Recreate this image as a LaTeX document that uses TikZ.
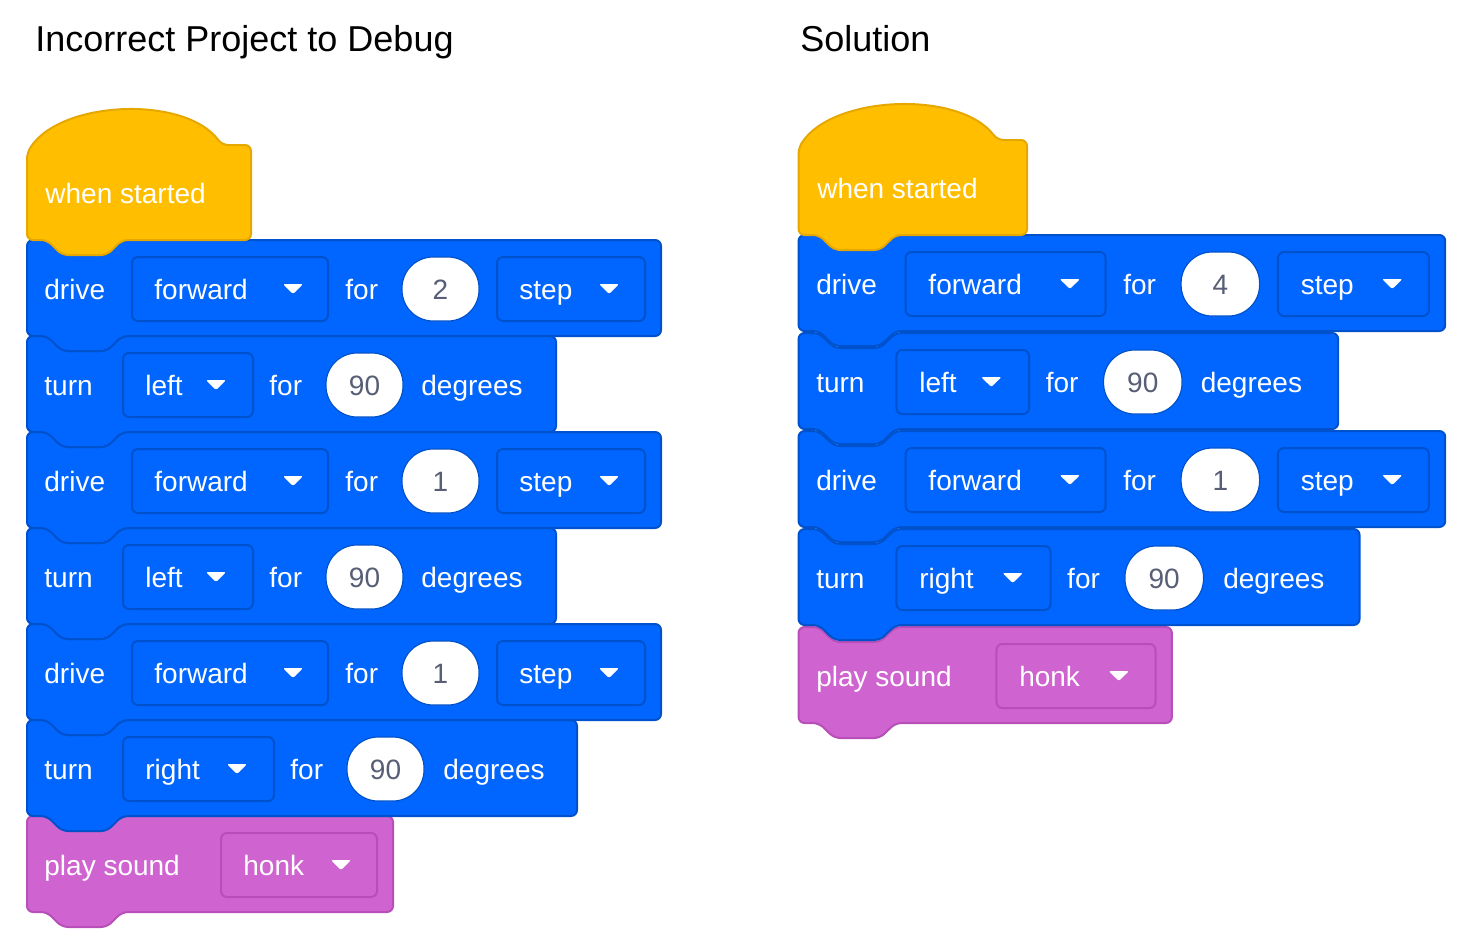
\documentclass[tikz,border=0pt]{standalone}
\usepackage{fontspec}
\setmainfont{Liberation Sans}
\usetikzlibrary{positioning}

\definecolor{motionblue}{RGB}{0,102,255}
\definecolor{motionedge}{RGB}{0,82,204}
\definecolor{eventyellow}{RGB}{255,191,0}
\definecolor{eventedge}{RGB}{230,168,0}
\definecolor{soundpurple}{RGB}{207,99,207}
\definecolor{soundedge}{RGB}{184,79,184}
\definecolor{numgrey}{RGB}{87,94,117}

\tikzset{
  lbl/.style={font=\fontsize{14}{16}\selectfont, text=white, inner sep=0pt, anchor=base west},
  numtxt/.style={font=\fontsize{14}{16}\selectfont, text=numgrey, inner sep=0pt, anchor=base},
  title/.style={font=\fontsize{18}{20}\selectfont, inner sep=0pt, anchor=base west},
}

% block body with notch on top and tab below
\newcommand{\blockshape}[6]{%
  \draw[fill=#1, draw=#2, line width=1pt, rounded corners=3pt]
    (#3,#4) -- ++(20,0) -- ++(15,15) -- ++(45,0) -- ++(15,-15) -- (#3+#5,#4)
    -- (#3+#5,#4+#6) -- (#3+95,#4+#6) -- ++(-15,15) -- ++(-45,0) -- ++(-15,-15)
    -- (#3,#4+#6) -- cycle;}
% dropdown field: name, x1, x2, ymid, text, arrow x, edge colour
\newcommand{\dropfield}[7]{%
  \draw[draw=#7, line width=1pt, rounded corners=3pt] (#2,#4-32) rectangle (#3,#4+32);
  \node[lbl] (#1) at (#2+22,#4+10) {#5};
  \fill[white, rounded corners=1pt] (#6-10,#4-5) -- (#6+10,#4-5) -- (#6,#4+5) -- cycle;}
% number oval
\newcommand{\numfield}[5]{%
  \draw[fill=white, draw=motionedge, line width=0.6pt, rounded corners=15.5pt] (#2,#4-32) rectangle (#3,#4+32);
  \node[numtxt] (#1) at ({(#2+#3)/2},#4+10) {#5};}

\newcommand{\driverow}[3]{% name, y, number
  \blockshape{motionblue}{motionedge}{27}{#2}{634}{96}
  \node[lbl] (#1-word) at (44,#2+59) {drive};
  \dropfield{#1-dir}{132}{328}{#2+49}{forward}{293}{motionedge}
  \node[lbl] (#1-for) at (345,#2+59) {for};
  \numfield{#1-num}{402}{479}{#2+49}{#3}
  \dropfield{#1-unit}{497}{645}{#2+49}{step}{609}{motionedge}}
\newcommand{\turnleftrow}[2]{% name, y
  \blockshape{motionblue}{motionedge}{27}{#2}{529}{96}
  \node[lbl] (#1-word) at (44,#2+59) {turn};
  \dropfield{#1-dir}{123}{253}{#2+49}{left}{216}{motionedge}
  \node[lbl] (#1-for) at (269,#2+59) {for};
  \numfield{#1-num}{326}{403}{#2+49}{90}
  \node[lbl] (#1-unit) at (421,#2+59) {degrees};}
\newcommand{\turnrightrow}[2]{% name, y
  \blockshape{motionblue}{motionedge}{27}{#2}{550}{96}
  \node[lbl] (#1-word) at (44,#2+59) {turn};
  \dropfield{#1-dir}{123}{274}{#2+49}{right}{237}{motionedge}
  \node[lbl] (#1-for) at (290,#2+59) {for};
  \numfield{#1-num}{347}{424}{#2+49}{90}
  \node[lbl] (#1-unit) at (443,#2+59) {degrees};}
\newcommand{\soundrow}[2]{% name, y
  \blockshape{soundpurple}{soundedge}{27}{#2}{366}{96}
  \node[lbl] (#1-word) at (44,#2+59) {play sound};
  \dropfield{#1-snd}{221}{377}{#2+49}{honk}{341}{soundedge}}
\newcommand{\hatblock}[2]{% name, y of body top
  \draw[fill=eventyellow, draw=eventedge, line width=1pt, rounded corners=3pt]
    (27,#2+95) -- (27,#2+8) .. controls (60,#2-45) and (185,#2-50) .. (222,#2) -- (251,#2)
    -- (251,#2+95) -- (122,#2+95) -- ++(-15,15) -- ++(-45,0) -- ++(-15,-15) -- cycle;
  \node[lbl] (#1) at (45,#2+58) {when started};}

\begin{document}
\begin{tikzpicture}[x=0.5pt, y=-0.5pt]
  \useasboundingbox (0,0) rectangle (1470,937);

  \node[title] (wrongtitle) at (35,51) {Incorrect Project to Debug};
  \node[title] (soltitle) at (800,51) {Solution};

  % incorrect project, drawn bottom up
  \soundrow{wsound}{816}
  \turnrightrow{wturn3}{720}
  \driverow{wdrive3}{624}{1}
  \turnleftrow{wturn2}{528}
  \driverow{wdrive2}{432}{1}
  \turnleftrow{wturn1}{336}
  \driverow{wdrive1}{240}{2}
  \hatblock{wstart}{145}

  % solution
  \begin{scope}[xshift=385.5pt, xscale=1.02]
    \soundrow{ssound}{627}
    \turnrightrow{sturn2}{529}
    \driverow{sdrive2}{431}{1}
    \turnleftrow{sturn1}{333}
    \driverow{sdrive1}{235}{4}
    \hatblock{sstart}{140}
  \end{scope}
\end{tikzpicture}
\end{document}
